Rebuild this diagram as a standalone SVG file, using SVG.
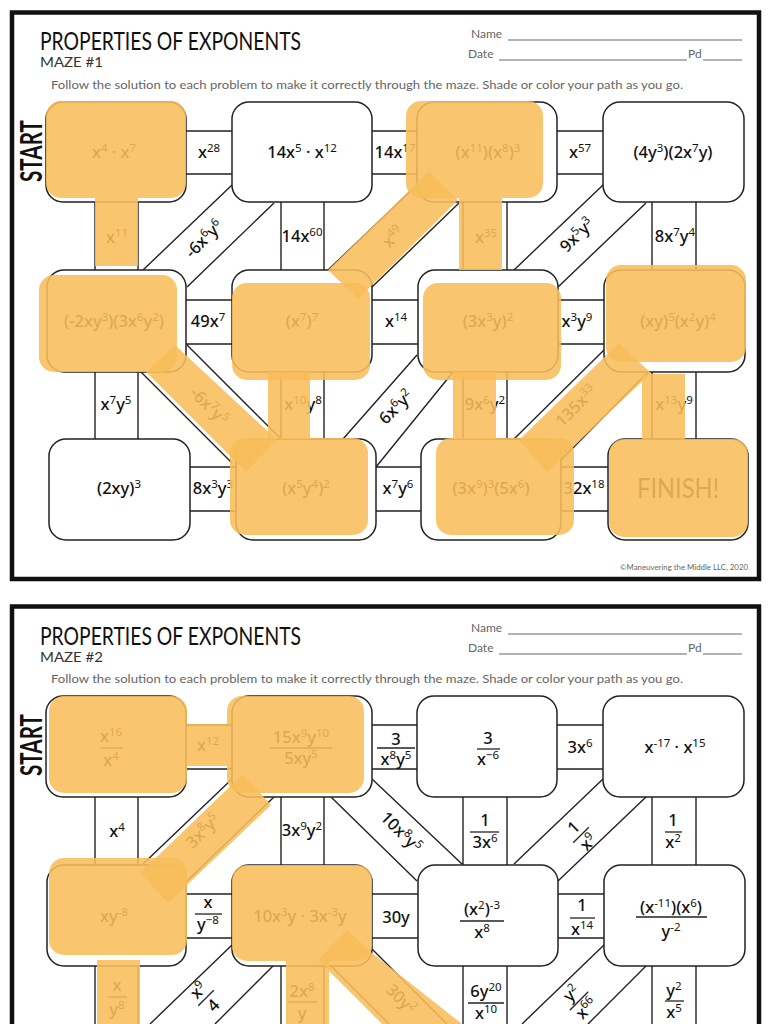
<svg xmlns="http://www.w3.org/2000/svg" width="768" height="1024" viewBox="0 0 768 1024">
<style>
text{font-family:"Lato","Noto Sans","Liberation Sans",sans-serif;fill:#111;}
.frame{fill:#fff;stroke:#111;stroke-width:4.5}
.n{fill:#fff;stroke:#222;stroke-width:1.5}
.c{fill:none;stroke:#222;stroke-width:1.4}
.f{stroke:#222;stroke-width:1.3;fill:none}
.m{font-family:"Noto Sans","Lato",sans-serif;font-size:16.5px;font-weight:500;text-anchor:middle}
.s{font-size:11.5px;font-weight:400}
.title{font-size:25px;font-weight:400;fill:#111}
.sub{font-size:13px;fill:#333}
.ins{font-size:12px;fill:#666}
.hd{font-size:12px;fill:#666}
.rule{stroke:#666;stroke-width:1}
.start{font-size:31px;font-weight:700}
.fin{font-size:27px;font-weight:400;text-anchor:middle}
.copy{font-size:7.5px;fill:#666}
.o{fill:#F8BD5A;fill-opacity:.88}
</style>
<rect class="frame" x="12" y="12.5" width="747" height="566.5"/>
<rect class="frame" x="12" y="606.5" width="747" height="500"/>

<g id="header-1">
<text class="title" x="40" y="50" textLength="261" lengthAdjust="spacingAndGlyphs">PROPERTIES OF EXPONENTS</text>
<text class="sub" x="40" y="67" textLength="63" lengthAdjust="spacingAndGlyphs">MAZE #1</text>
<text class="hd" x="471" y="38">Name</text><line class="rule" x1="508" y1="40" x2="742" y2="40"/>
<text class="hd" x="468" y="58">Date</text><line class="rule" x1="499" y1="60" x2="687" y2="60"/>
<text class="hd" x="688" y="58">Pd</text><line class="rule" x1="703" y1="60" x2="742" y2="60"/>
<text class="ins" x="51" y="89" textLength="632" lengthAdjust="spacingAndGlyphs">Follow the solution to each problem to make it correctly through the maze. Shade or color your path as you go.</text>
<text class="start" transform="translate(42,182) rotate(-90)" textLength="62" lengthAdjust="spacingAndGlyphs">START</text>
<text class="copy" x="620" y="570" textLength="128" lengthAdjust="spacingAndGlyphs">©Maneuvering the Middle LLC, 2020</text>
</g>
<g id="header-2">
<text class="title" x="40" y="644.5" textLength="261" lengthAdjust="spacingAndGlyphs">PROPERTIES OF EXPONENTS</text>
<text class="sub" x="40" y="661.5" textLength="63" lengthAdjust="spacingAndGlyphs">MAZE #2</text>
<text class="hd" x="471" y="632">Name</text><line class="rule" x1="508" y1="634" x2="742" y2="634"/>
<text class="hd" x="468" y="652">Date</text><line class="rule" x1="499" y1="654" x2="687" y2="654"/>
<text class="hd" x="688" y="652">Pd</text><line class="rule" x1="703" y1="654" x2="742" y2="654"/>
<text class="ins" x="51" y="683" textLength="632" lengthAdjust="spacingAndGlyphs">Follow the solution to each problem to make it correctly through the maze. Shade or color your path as you go.</text>
<text class="start" transform="translate(42,776) rotate(-90)" textLength="62" lengthAdjust="spacingAndGlyphs">START</text>
</g>

<g id="connectors">
<path class="c" d="M186 131H232M186 174H232M372 131H417M372 174H417M557 131H603M557 174H603
M186 300H232M186 344H232M372 300H418M372 344H418M558 300H604M558 344H604
M190 467H236M190 511H236M376 467H421M376 511H421M561 467H608M561 511H608
M95 202V270M138 202V270M281 202V270M324 202V270M463 202V270M507 202V270M652 202V270M696 202V270
M95 372V439M138 372V439M281 372V439M324 372V439M463 372V439M507 372V439M652 372V439M696 372V439
M232 185L143 270M274 203L187 287M417 185L328 270M459 203L372 287M603 185L514 270M646 203L558 287
M141 372L232 463M187 345L281 439M417 355L343 439M453 372L376 467M604 350L514 439M648 372L561 460"/>
<path class="c" d="M186 725H232M186 769H232M372 725H417M372 769H417M557 725H603M557 769H603
M186 894H232M186 938H232M372 894H418M372 938H418M558 894H604M558 938H604
M95 797V865M138 797V865M281 797V865M324 797V865M463 797V865M507 797V865M652 797V865M696 797V865
M95 966V1024M138 966V1024M281 966V1024M324 966V1024M463 966V1024M507 966V1024M652 966V1024M696 966V1024
M232 779L143 864M274 797L187 881M372 779L462 864M331 797L417 881M603 779L514 864M646 797L558 881
M232 945L150 1024M273 966L215 1024M331 966L389 1024M372 949L447 1024M604 945L522 1024M646 966L588 1024"/>
<text class="m" x="209" y="158">x<tspan class="s" dy="-6">28</tspan></text>
<text class="m" x="395" y="158">14x<tspan class="s" dy="-6">17</tspan></text>
<text class="m" x="580" y="158">x<tspan class="s" dy="-6">57</tspan></text>
<text class="m" x="117" y="243">x<tspan class="s" dy="-6">11</tspan></text>
<text class="m" x="302" y="242">14x<tspan class="s" dy="-6">60</tspan></text>
<text class="m" x="486" y="243">x<tspan class="s" dy="-6">35</tspan></text>
<text class="m" x="675" y="242">8x<tspan class="s" dy="-6">7</tspan><tspan dy="6">y</tspan><tspan class="s" dy="-6">4</tspan></text>
<text class="m" transform="translate(208,243) rotate(-45)">-6x<tspan class="s" dy="-6">6</tspan><tspan dy="6">y</tspan><tspan class="s" dy="-6">6</tspan></text>
<text class="m" transform="translate(397,241) rotate(-45)">x<tspan class="s" dy="-6">49</tspan></text>
<text class="m" transform="translate(581,239) rotate(-45)">9x<tspan class="s" dy="-6">5</tspan><tspan dy="6">y</tspan><tspan class="s" dy="-6">3</tspan></text>
<text class="m" x="208" y="327">49x<tspan class="s" dy="-6">7</tspan></text>
<text class="m" x="396" y="327">x<tspan class="s" dy="-6">14</tspan></text>
<text class="m" x="577" y="327">x<tspan class="s" dy="-6">3</tspan><tspan dy="6">y</tspan><tspan class="s" dy="-6">9</tspan></text>
<text class="m" x="116" y="410">x<tspan class="s" dy="-6">7</tspan><tspan dy="6">y</tspan><tspan class="s" dy="-6">5</tspan></text>
<text class="m" x="303" y="410">x<tspan class="s" dy="-6">10</tspan><tspan dy="6">y</tspan><tspan class="s" dy="-6">8</tspan></text>
<text class="m" x="485" y="410">9x<tspan class="s" dy="-6">6</tspan><tspan dy="6">y</tspan><tspan class="s" dy="-6">2</tspan></text>
<text class="m" x="674" y="410">x<tspan class="s" dy="-6">13</tspan><tspan dy="6">y</tspan><tspan class="s" dy="-6">9</tspan></text>
<text class="m" transform="translate(205,410) rotate(45)">-6x<tspan class="s" dy="-6">7</tspan><tspan dy="6">y</tspan><tspan class="s" dy="-6">5</tspan></text>
<text class="m" transform="translate(400,411) rotate(-45)">6x<tspan class="s" dy="-6">6</tspan><tspan dy="6">y</tspan><tspan class="s" dy="-6">2</tspan></text>
<text class="m" transform="translate(580,410) rotate(-45)">135x<tspan class="s" dy="-6">33</tspan></text>
<text class="m" x="213" y="494">8x<tspan class="s" dy="-6">3</tspan><tspan dy="6">y</tspan><tspan class="s" dy="-6">3</tspan></text>
<text class="m" x="398" y="494">x<tspan class="s" dy="-6">7</tspan><tspan dy="6">y</tspan><tspan class="s" dy="-6">6</tspan></text>
<text class="m" x="584" y="494">32x<tspan class="s" dy="-6">18</tspan></text>

<text class="m" x="208" y="751">x<tspan class="s" dy="-6">12</tspan></text>
<g><text class="m" x="396" y="745">3</text><line class="f" x1="377" y1="748" x2="415" y2="748"/><text class="m" x="396" y="765">x<tspan class="s" dy="-6">8</tspan><tspan dy="6">y</tspan><tspan class="s" dy="-6">5</tspan></text></g>
<text class="m" x="580" y="753">3x<tspan class="s" dy="-6">6</tspan></text>
<text class="m" x="117" y="837">x<tspan class="s" dy="-6">4</tspan></text>
<text class="m" transform="translate(207,835) rotate(-45)">3x<tspan class="s" dy="-6">8</tspan><tspan dy="6">y</tspan><tspan class="s" dy="-6">5</tspan></text>
<text class="m" x="302" y="836">3x<tspan class="s" dy="-6">9</tspan><tspan dy="6">y</tspan><tspan class="s" dy="-6">2</tspan></text>
<text class="m" transform="translate(397,836) rotate(45)">10x<tspan class="s" dy="-6">8</tspan><tspan dy="6">y</tspan><tspan class="s" dy="-6">5</tspan></text>
<g><text class="m" x="485" y="826">1</text><line class="f" x1="470" y1="832" x2="499" y2="832"/><text class="m" x="485" y="848">3x<tspan class="s" dy="-6">6</tspan></text></g>
<g transform="translate(581,835) rotate(-45)"><text class="m" x="0" y="-5">1</text><line class="f" x1="-11" y1="0" x2="11" y2="0"/><text class="m" x="0" y="16">x<tspan class="s" dy="-6">9</tspan></text></g>
<g><text class="m" x="673" y="826">1</text><line class="f" x1="665" y1="832" x2="682" y2="832"/><text class="m" x="673" y="848">x<tspan class="s" dy="-6">2</tspan></text></g>
<g><text class="m" x="208" y="908">x</text><line class="f" x1="195" y1="914" x2="222" y2="914"/><text class="m" x="208" y="930">y<tspan class="s" dy="-6">−8</tspan></text></g>
<text class="m" x="396" y="923">30y</text>
<g><text class="m" x="582" y="911">1</text><line class="f" x1="570" y1="918" x2="595" y2="918"/><text class="m" x="582" y="935">x<tspan class="s" dy="-6">14</tspan></text></g>
<g><text class="m" x="117" y="991">x</text><line class="f" x1="108" y1="997" x2="127" y2="997"/><text class="m" x="117" y="1015">y<tspan class="s" dy="-6">8</tspan></text></g>
<g transform="translate(206,998) rotate(-45)"><text class="m" x="0" y="-5">x<tspan class="s" dy="-6">9</tspan></text><line class="f" x1="-11" y1="0" x2="11" y2="0"/><text class="m" x="0" y="16">4</text></g>
<g><text class="m" x="302" y="997">2x<tspan class="s" dy="-6">8</tspan></text><line class="f" x1="288" y1="1002" x2="317" y2="1002"/><text class="m" x="302" y="1019">y</text></g>
<text class="m" transform="translate(397,1003) rotate(45)">30y<tspan class="s" dy="-6">2</tspan></text>
<g><text class="m" x="486" y="997">6y<tspan class="s" dy="-6">20</tspan></text><line class="f" x1="468" y1="1003" x2="504" y2="1003"/><text class="m" x="486" y="1019">x<tspan class="s" dy="-6">10</tspan></text></g>
<g transform="translate(579,1001) rotate(-45)"><text class="m" x="0" y="-5">y<tspan class="s" dy="-6">2</tspan></text><line class="f" x1="-13" y1="0" x2="13" y2="0"/><text class="m" x="0" y="16">x<tspan class="s" dy="-6">66</tspan></text></g>
<g><text class="m" x="674" y="996">y<tspan class="s" dy="-6">2</tspan></text><line class="f" x1="665" y1="1001" x2="684" y2="1001"/><text class="m" x="674" y="1018">x<tspan class="s" dy="-6">5</tspan></text></g>
</g>

<g id="n1a"><rect class="n" x="46" y="102" width="140" height="100" rx="17"/><text class="m" x="114" y="158">x<tspan class="s" dy="-6">4</tspan><tspan dy="6"> · x</tspan><tspan class="s" dy="-6">7</tspan></text></g>
<g id="n1b"><rect class="n" x="232" y="102" width="140" height="100" rx="17"/><text class="m" x="302" y="158">14x<tspan class="s" dy="-6">5</tspan><tspan dy="6"> · x</tspan><tspan class="s" dy="-6">12</tspan></text></g>
<g id="n1c"><rect class="n" x="417" y="102" width="140" height="100" rx="17"/><text class="m" x="488" y="158">(x<tspan class="s" dy="-6">11</tspan><tspan dy="6">)(x</tspan><tspan class="s" dy="-6">8</tspan><tspan dy="6">)</tspan><tspan class="s" dy="-6">3</tspan></text></g>
<g id="n1d"><rect class="n" x="603" y="102" width="141" height="100" rx="17"/><text class="m" x="673" y="158">(4y<tspan class="s" dy="-6">3</tspan><tspan dy="6">)(2x</tspan><tspan class="s" dy="-6">7</tspan><tspan dy="6">y)</tspan></text></g>
<g id="n1e"><rect class="n" x="47" y="270" width="139" height="102" rx="17"/><text class="m" x="114" y="327">(-2xy<tspan class="s" dy="-6">3</tspan><tspan dy="6">)(3x</tspan><tspan class="s" dy="-6">6</tspan><tspan dy="6">y</tspan><tspan class="s" dy="-6">2</tspan><tspan dy="6">)</tspan></text></g>
<g id="n1f"><rect class="n" x="232" y="270" width="140" height="102" rx="17"/><text class="m" x="302" y="327">(x<tspan class="s" dy="-6">7</tspan><tspan dy="6">)</tspan><tspan class="s" dy="-6">7</tspan></text></g>
<g id="n1g"><rect class="n" x="418" y="270" width="140" height="102" rx="17"/><text class="m" x="488" y="327">(3x<tspan class="s" dy="-6">3</tspan><tspan dy="6">y)</tspan><tspan class="s" dy="-6">2</tspan></text></g>
<g id="n1h"><rect class="n" x="604" y="270" width="141" height="102" rx="17"/><text class="m" x="678" y="327">(xy)<tspan class="s" dy="-6">5</tspan><tspan dy="6">(x</tspan><tspan class="s" dy="-6">2</tspan><tspan dy="6">y)</tspan><tspan class="s" dy="-6">4</tspan></text></g>
<g id="n1i"><rect class="n" x="49" y="439" width="141" height="101" rx="17"/><text class="m" x="119" y="494">(2xy)<tspan class="s" dy="-6">3</tspan></text></g>
<g id="n1j"><rect class="n" x="236" y="439" width="140" height="101" rx="17"/><text class="m" x="306" y="494">(x<tspan class="s" dy="-6">5</tspan><tspan dy="6">y</tspan><tspan class="s" dy="-6">4</tspan><tspan dy="6">)</tspan><tspan class="s" dy="-6">2</tspan></text></g>
<g id="n1k"><rect class="n" x="421" y="439" width="140" height="101" rx="17"/><text class="m" x="491" y="494">(3x<tspan class="s" dy="-6">9</tspan><tspan dy="6">)</tspan><tspan class="s" dy="-6">3</tspan><tspan dy="6">(5x</tspan><tspan class="s" dy="-6">6</tspan><tspan dy="6">)</tspan></text></g>
<g id="n1l"><rect class="n" x="608" y="439" width="140" height="101" rx="17"/><text class="fin" x="678" y="498" textLength="82" lengthAdjust="spacingAndGlyphs">FINISH!</text></g>

<g id="n2a"><rect class="n" x="46" y="696" width="140" height="101" rx="17"/><text class="m" x="111" y="742">x<tspan class="s" dy="-6">16</tspan></text><line class="f" x1="100" y1="748" x2="123" y2="748"/><text class="m" x="111" y="766">x<tspan class="s" dy="-6">4</tspan></text></g>
<g id="n2b"><rect class="n" x="232" y="696" width="140" height="101" rx="17"/><text class="m" x="301" y="743">15x<tspan class="s" dy="-6">9</tspan><tspan dy="6">y</tspan><tspan class="s" dy="-6">10</tspan></text><line class="f" x1="270" y1="748" x2="332" y2="748"/><text class="m" x="301" y="764">5xy<tspan class="s" dy="-6">5</tspan></text></g>
<g id="n2c"><rect class="n" x="417" y="696" width="140" height="101" rx="17"/><text class="m" x="488" y="744">3</text><line class="f" x1="477" y1="749" x2="500" y2="749"/><text class="m" x="488" y="765">x<tspan class="s" dy="-6">−6</tspan></text></g>
<g id="n2d"><rect class="n" x="603" y="696" width="141" height="101" rx="17"/><text class="m" x="675" y="753">x<tspan class="s" dy="-6">-17</tspan><tspan dy="6"> · x</tspan><tspan class="s" dy="-6">15</tspan></text></g>
<g id="n2e"><rect class="n" x="47" y="865" width="139" height="101" rx="17"/><text class="m" x="114" y="922">xy<tspan class="s" dy="-6">-8</tspan></text></g>
<g id="n2f"><rect class="n" x="232" y="865" width="140" height="101" rx="17"/><text class="m" x="300" y="922">10x<tspan class="s" dy="-6">3</tspan><tspan dy="6">y · 3x</tspan><tspan class="s" dy="-6">-3</tspan><tspan dy="6">y</tspan></text></g>
<g id="n2g"><rect class="n" x="418" y="865" width="140" height="101" rx="17"/><text class="m" x="482" y="915">(x<tspan class="s" dy="-6">2</tspan><tspan dy="6">)</tspan><tspan class="s" dy="-6">-3</tspan></text><line class="f" x1="460" y1="921" x2="504" y2="921"/><text class="m" x="482" y="938">x<tspan class="s" dy="-6">8</tspan></text></g>
<g id="n2h"><rect class="n" x="604" y="865" width="141" height="101" rx="17"/><text class="m" x="671" y="913">(x<tspan class="s" dy="-6">-11</tspan><tspan dy="6">)(x</tspan><tspan class="s" dy="-6">6</tspan><tspan dy="6">)</tspan></text><line class="f" x1="636" y1="917" x2="707" y2="917"/><text class="m" x="671" y="937">y<tspan class="s" dy="-6">-2</tspan></text></g>

<g id="shading">
<rect class="o" x="46" y="101" width="140" height="97" rx="15"/>
<rect class="o" x="95" y="198" width="43" height="68"/>
<rect class="o" x="39" y="275" width="138" height="97" rx="15"/>
<polygon class="o" points="175,345 146,372 246,472 277,440"/>
<rect class="o" x="232" y="283" width="138" height="97" rx="15"/>
<rect class="o" x="268" y="372" width="42" height="67"/>
<rect class="o" x="230" y="438" width="138" height="97" rx="15"/>
<polygon class="o" points="429,171 458,200 358,299 328,270"/>
<rect class="o" x="406" y="101" width="137" height="97" rx="15"/>
<rect class="o" x="459" y="198" width="43" height="72"/>
<rect class="o" x="423" y="283" width="138" height="97" rx="15"/>
<rect class="o" x="453" y="372" width="43" height="67"/>
<rect class="o" x="436" y="438" width="138" height="97" rx="15"/>
<polygon class="o" points="619,343 651,373 547,472 519,440"/>
<rect class="o" x="606" y="265" width="140" height="97" rx="15"/>
<rect class="o" x="642" y="374" width="43" height="65"/>
<rect class="o" x="609" y="439" width="139" height="98" rx="15"/>
<rect class="o" x="49" y="696" width="138" height="97" rx="15"/>
<rect class="o" x="187" y="724" width="40" height="42"/>
<rect class="o" x="227" y="696" width="137" height="97" rx="15"/>
<polygon class="o" points="243,774 271,805 168,903 140,873"/>
<rect class="o" x="49" y="858" width="138" height="97" rx="15"/>
<rect class="o" x="97" y="960" width="43" height="64"/>
<rect class="o" x="232" y="865" width="140" height="96" rx="15"/>
<rect class="o" x="286" y="961" width="43" height="63"/>
<polygon class="o" points="347,930 318,960 382,1024 462,1024 372,953"/>
</g>
</svg>
